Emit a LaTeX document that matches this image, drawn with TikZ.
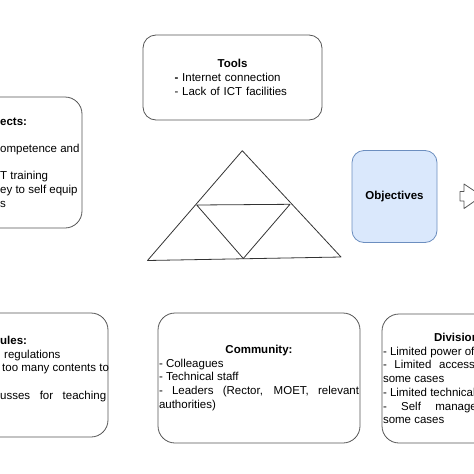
\documentclass[tikz,border=0pt]{standalone}
\usepackage{fontspec}
\setmainfont{Liberation Sans}
\definecolor{boxline}{HTML}{555555}
\definecolor{triline}{HTML}{333333}
\definecolor{objfill}{HTML}{DAE8FC}
\definecolor{objline}{HTML}{6C8EBF}
\hyphenpenalty=10000

\begin{document}
\begin{tikzpicture}[x=1pt, y=-1pt, font=\fontsize{11.5}{13.7}\selectfont]

%STYLE SETTINGS
\tikzstyle{box}=[draw=boxline, line width=0.8pt, rounded corners=17pt, inner sep=1pt]
\tikzstyle{frag}=[inner sep=0pt, anchor=west, align=left]
\tikzstyle{tri}=[draw=triline, line width=0.8pt, line join=round]

%CANVAS
\useasboundingbox (0,0) rectangle (474,474);
\clip (0,0) rectangle (474,474);

%NODES
\node[box, rounded corners=13pt, minimum width=179pt, minimum height=85pt,
      text width=116pt, align=left] (tools) at (232.5,77.5)
  {{\centering\textbf{Tools}\par}\textbf{-} Internet connection\\- Lack of ICT facilities};

\node[box, minimum width=172pt, minimum height=131pt] (subjects) at (-4,162.5) {};
\node[frag] (subjectstext) at (0,162.5)
  {\textbf{ects:}\\\mbox{}\\ompetence and\\\mbox{}\\T training\\ey to self equip\\s};

\node[box, rounded corners=12pt, draw=objline, fill=objfill,
      minimum width=85pt, minimum height=92pt] (objectives) at (394.5,196.5)
  {\textbf{Objectives}};

\node[box, minimum width=198pt, minimum height=124pt] (rules) at (9,375) {};
\node[frag] (rulestext) at (0,374.5)
  {\textbf{ules:}\\\hspace*{4pt}regulations\\\hspace*{2pt}too many contents to\\\mbox{}\\
   \makebox[106pt][s]{usses for teaching}\\\mbox{}};

\node[box, minimum height=130pt, text width=200pt, align=justify] (community) at (259,378)
  {{\centering\textbf{Community:}\par}- Colleagues\\- Technical staff\\- Leaders (Rector, MOET, relevant authorities)};

\node[box, minimum height=129pt, text width=196pt, align=justify] (division) at (481,378.5)
  {{\centering\textbf{Division of labor:}\par}- Limited power of decision\\- Limited access to the Internet in\linebreak some cases\\- Limited technical support\\- Self manage technologies in\linebreak some cases};

%TRIANGLE
\coordinate (apex) at (242.3,150.7);
\coordinate (left) at (147.5,260.5);
\coordinate (right) at (341,257);
\coordinate (midleft) at (196.7,205);
\coordinate (midright) at (290,204.3);
\coordinate (midbottom) at (243.3,258.5);
\draw[tri] (apex) -- (left) -- (right) -- cycle;
\draw[tri] (midleft) -- (midright) -- (midbottom) -- cycle;

%ARROW
\draw[tri, draw=boxline] (460,191.5) -- (464,191.5) -- (464,184) -- (482,196)
  -- (464,208.5) -- (464,201) -- (460,201) -- cycle;

\end{tikzpicture}
\end{document}
